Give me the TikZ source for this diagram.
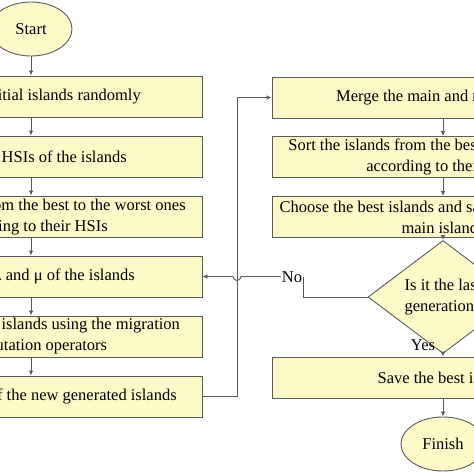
\documentclass[tikz,border=0pt]{standalone}
\usepackage{fontspec}
\setmainfont{Liberation Serif}
\usetikzlibrary{shapes.geometric,arrows.meta}
\definecolor{boxfill}{HTML}{FCFAC8}
\definecolor{boxline}{HTML}{5A5A5A}
\begin{document}
\begin{tikzpicture}[x=1pt,y=-1pt,
  every node/.style={font=\fontsize{16.5}{21}\selectfont},
  procbox/.style={draw=boxline,fill=boxfill,line width=0.9pt,minimum width=342pt,minimum height=41pt,inner sep=0pt,align=center},
  termnode/.style={ellipse,draw=boxline,fill=boxfill,line width=0.9pt,inner sep=0pt},
  decnode/.style={diamond,draw=boxline,fill=boxfill,line width=0.9pt,inner sep=0pt,minimum width=150pt,minimum height=80pt,align=center},
  flow/.style={draw=boxline,line width=0.9pt,-{Latex[length=5pt,width=4.5pt]}},
  plain/.style={draw=boxline,line width=0.9pt}]
\useasboundingbox (0,0) rectangle (474,474);
\clip (0,0) rectangle (474,474);
\fill[white] (0,0) rectangle (474,474);
\node[termnode,minimum width=82pt,minimum height=54pt] (start) at (31,29) {Start};
\node[procbox] (b1) at (31,96.5) {Generate initial islands randomly};
\node[procbox] (b2) at (31,156.5) {Calculate HSIs of the islands};
\node[procbox] (b3) at (31,216.5) {Sort the islands from the best to the worst ones\\according to their HSIs};
\node[procbox] (b4) at (31,276.5) {Calculate λ and μ of the islands};
\node[procbox] (b5) at (31,336.5) {Generate the new islands using the migration\\and mutation operators};
\node[procbox] (b6) at (31,396.5) {Calculate HSIs of the new generated islands};
\node[procbox] (r1) at (443,97.5) {Merge the main and new islands};
\node[procbox] (r2) at (443,157) {Sort the islands from the best to the worst ones\\according to their HSIs};
\node[procbox] (r3) at (443,217) {Choose the best islands and save them as the new\\main islands};
\node[decnode] (dia) at (443,297) {Is it the last\\generation?};
\node[procbox] (save) at (443,377.5) {Save the best island};
\node[termnode,minimum width=84pt,minimum height=54pt] (finish) at (443,444) {Finish};
\draw[flow] (start) -- (b1);
\draw[flow] (b1) -- (b2);
\draw[flow] (b2) -- (b3);
\draw[flow] (b3) -- (b4);
\draw[flow] (b4) -- (b5);
\draw[flow] (b5) -- (b6);
\draw[flow] (r1) -- (r2);
\draw[flow] (r2) -- (r3);
\draw[flow] (r3) -- (dia);
\node (yes) at (423,345) {Yes};
\draw[flow] (dia) -- (save);
\draw[flow] (save) -- (finish);
\coordinate (loopx) at (237,396.5);
\draw[flow] (b6.east) -- (loopx) |- (r1.west);
\coordinate (nocorner) at (303,276.5);
\coordinate (hopR) at (241,276.5);
\draw[plain] (dia.west) -| (nocorner);
\draw[flow] (nocorner) -- (hopR) arc[start angle=0,end angle=180,radius=4] -- (b4.east);
\node[fill=white,inner sep=1pt] (no) at (292,277) {No};
\end{tikzpicture}
\end{document}
